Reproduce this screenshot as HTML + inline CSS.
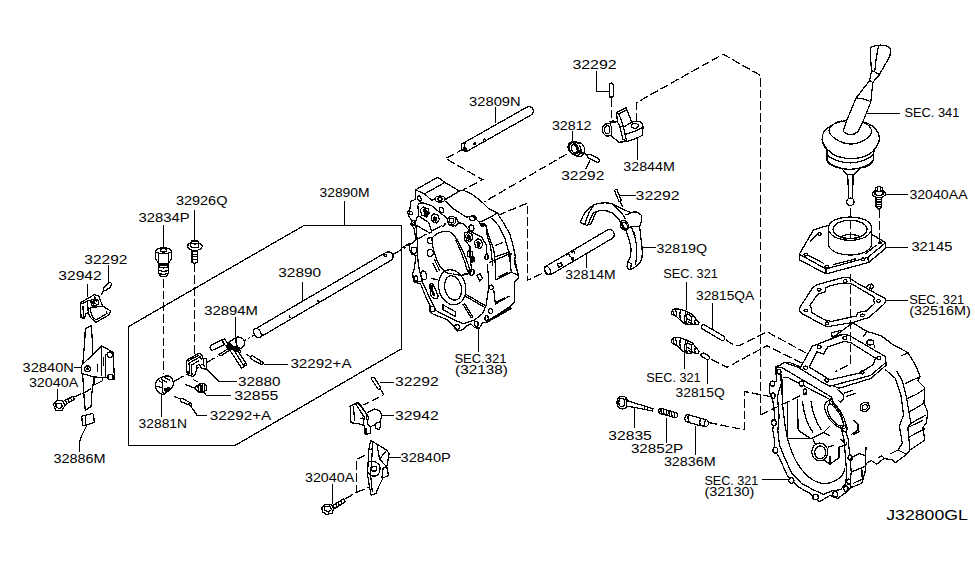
<!DOCTYPE html>
<html lang="en">
<head>
<meta charset="utf-8">
<title>J32800GL</title>
<style>
html,body{margin:0;padding:0;background:#fff;}
body{width:975px;height:566px;overflow:hidden;}
svg{display:block;shape-rendering:crispEdges;}
.l{fill:none;stroke:#000;stroke-width:1.25;stroke-linecap:butt;stroke-linejoin:round;}
.t{fill:none;stroke:#000;stroke-width:1.25;stroke-linejoin:round;}
.w{fill:#fff;stroke:#000;stroke-width:1.25;stroke-linejoin:round;}
.k{fill:#000;stroke:none;}
.d{fill:none;stroke:#000;stroke-width:1.25;stroke-dasharray:8.6 3.1;}
.dd{fill:none;stroke:#000;stroke-width:1.25;stroke-dasharray:11 2.5 2 2.5;}
g.z *{vector-effect:non-scaling-stroke;}
text{font-family:"Liberation Sans",sans-serif;font-size:13.2px;fill:#000;}
text.b{font-size:15.5px;}
</style>
</head>
<body>
<svg width="975" height="566" viewBox="0 0 975 566">
<rect x="0" y="0" width="975" height="566" fill="#fff"/>
<!-- 00_frame -->
<g class="l">
<!-- assembly box 32890M -->
<path d="M304 225.5 L401.5 225.5 L401.5 348.8 L235 445.5 L128.5 445.5 L128.5 326.6 Z"/>
<path d="M344.5 201 L344.5 225.2"/>
<!-- leaders: left group -->
<path d="M108.5 264.5 L108.5 282.4"/>
<path d="M87.5 284.4 L87.5 297.4"/>
<path d="M73.6 367.5 L83.8 367.5"/>
<path d="M57.5 388.5 L57.5 400.5"/>
<path d="M86.8 425.3 C84 432 79.4 438 79.4 444 V451.5"/>
<path d="M194.5 210.3 L194.5 240"/>
<path d="M163.5 225 L163.5 246.7"/>
<!-- leaders: inside box -->
<path d="M235.5 316.8 L235.5 337.4"/>
<path d="M236.5 381.5 L219 381.5 L205.5 367.7"/>
<path d="M230.5 395.5 L206.5 395.5 L203.3 391.7"/>
<path d="M207 415.5 L197.2 415.5 L190 405"/>
<path d="M161.5 417 L161.5 393"/>
<path d="M302.5 281.6 L302.5 301.3"/>
<path d="M287.6 364.5 L263.5 364.5"/>
<!-- leaders: top middle -->
<path d="M596.5 70.5 L596.5 91.5 L609.2 91.5"/>
<path d="M495.5 107.3 L495.5 123.3"/>
<path d="M572.5 131.3 L572.5 142"/>
<path d="M585.5 169.5 L590 160.7"/>
<path d="M637.5 139.3 L637.5 159.8"/>
<path d="M635.7 195.5 L619 195.5"/>
<path d="M656.3 247.5 L642 247.5"/>
<path d="M586.5 267.7 L586.5 254"/>
<!-- leaders: middle lower -->
<path d="M686.5 281.8 L686.5 309.7"/>
<path d="M712.5 303.3 L712.5 328.6"/>
<path d="M684.5 351.6 L684.5 368.5"/>
<path d="M707.5 359.3 L707.5 384"/>
<path d="M634.5 407 L634.5 428.2"/>
<path d="M666.5 417.6 L666.5 442.7"/>
<path d="M695.5 425.5 L695.5 454.7"/>
<path d="M761.6 479.5 L788.6 479.5"/>
<path d="M478.5 328.6 L478.5 351.7"/>
<!-- leaders: bottom middle -->
<path d="M393.7 382.5 L380.1 382.5"/>
<path d="M393.7 415.5 L381.6 415.5"/>
<path d="M400.6 457.5 L388.6 457.5"/>
<path d="M332.5 483.8 L332.5 503.6"/>
<!-- leaders: right -->
<path d="M899.8 113.5 L865.8 113.5"/>
<path d="M907.6 194.5 L885.6 194.5"/>
<path d="M907.5 247.5 L885.6 247.5"/>
<path d="M907.5 300.5 L885.6 300.5"/>
</g>
<!-- 01_dashed -->
<g class="d">
<path d="M163.5 279 L163.5 374"/>
<path d="M194.5 263.5 L194.5 353.5"/>
<!-- 32809N to housing -->
<path d="M464.5 148.6 L445.6 158.5 L482.6 179.6 L460 191.6"/>
<!-- ring 32812 to housing -->
<path d="M566.7 154 L484 202"/>
<!-- housing to 32814M -->
<path d="M497.6 215.6 L527.5 203 L527.5 280.2 L545.5 272"/>
<!-- pin to 32844M -->
<path d="M611.5 98 L611.5 120.7"/>
<!-- 32844M big loop -->
<path d="M636.5 121.6 L636.5 102.6 L723 54.2 L760.5 75.4 L760.5 415.5"/>
<!-- 32815QA -->
<path d="M726 339.6 Q733 346.5 740.8 345 L766.8 331.7 L806.3 353.2"/>
<!-- 32815Q -->
<path d="M711.1 359.3 L727.2 367.3 L766.8 345.7 L801.4 363"/>
<!-- 32836M -->
<path d="M709 422.6 L744.5 429.8 L744.5 391.5 L771.7 396.9"/>
<!-- bottom-middle: 32292 pin to clip -->
<path d="M380.1 388.5 L383.7 394.6 L363.6 405.1"/>
<!-- 32040A bolt to 32840P -->
<path d="M345.6 498.8 L356.5 492.2 L356.5 459.2 L368.7 453.7"/>
<path d="M356.7 492.2 L368.7 487.7"/>
</g>
<g class="dd">
<!-- axis of 32890 assembly -->
<path d="M174 381.5 L412 243.5"/>
</g>
<!-- 10_box_parts -->
<!-- shaft 32890 -->
<g>
<path class="w" d="M254.9 329.2 L385.6 252.6 Q390.5 250.6 392.6 254.6 Q394 258.2 391.6 260 L260.4 337 Z"/>
<ellipse class="w" cx="257.4" cy="333" rx="3.3" ry="5" transform="rotate(-28 257.4 333)"/>
<path class="l" d="M289.6 315.4 v2.2 h1.6 M262.6 334 l0.6 2"/>
<circle class="k" cx="318.3" cy="301.3" r="1.3"/>
<circle class="t" cx="385.2" cy="255.5" r="1.1"/>
</g>
<!-- 32894M (zoom 200,300 scale 100/708) -->
<g class="z" transform="translate(200 300) scale(0.14124)">
<path class="w" d="M205 298 L262 262 Q302 260 316 292 Q322 322 292 342 L245 360 Z"/>
<path class="l" d="M262 262 Q244 292 268 336"/>
<path class="w" d="M72 324 L156 282 L174 316 L88 356 Q68 352 72 324 Z"/>
<path class="l" d="M150 282 L164 302 M158 281 L172 276 L192 300"/>
<path class="w" d="M132 388 L196 346 L206 358 L150 394 Z"/>
<path class="w" d="M212 356 L252 338 L332 458 L294 482 Z"/>
<path class="l" d="M236 348 L312 470 M300 462 L324 448"/>
<path class="k" d="M186 298 L206 296 L232 322 L262 330 L284 336 L286 356 L256 366 L238 352 L214 356 L196 340 Z"/>
<path class="l" d="M180 318 L200 350 M268 336 L292 372" />
<path class="l" d="M204 310 L226 334 M244 340 L270 348" stroke="#fff"/>
<!-- pin 32292+A -->
<path class="l" d="M325 385 L352 399"/>
<path class="w" d="M358 404 Q362 392 374 396 L444 440 Q450 452 440 460 L366 420 Q356 414 358 404 Z"/>
<path class="l" d="M432 434 L424 452"/>
</g>
<!-- 11_box_small -->
<!-- 32881N, 32880, 32855, lower pin (zoom 145,340 scale 120/970) -->
<g class="z" transform="translate(145 340) scale(0.12371)">
<!-- 32881N -->
<path class="w" d="M84 365 Q88 322 130 302 Q175 282 205 295 Q232 320 228 365 Q222 392 195 408 L152 440 Q120 440 100 415 Q84 395 84 365 Z"/>
<path class="l" d="M130 302 Q150 340 140 385 Q138 420 152 440 M88 372 L140 385 M112 330 L150 350 M132 316 L176 340 M156 300 L202 326"/>
<path class="k" d="M150 395 L195 375 L205 398 L165 432 Z"/>
<!-- 32880 -->
<path class="w" d="M335 165 L430 110 Q455 108 462 125 L470 152 L500 150 L500 215 L490 236 L455 230 L440 196 L420 206 L410 270 L385 296 L350 282 L335 250 Z"/>
<path class="l" d="M345 172 L437 122 M356 187 L446 136 L456 160 M356 187 L360 272 M376 202 L440 166 M376 202 L380 282 M450 200 L466 200 L486 216 M470 152 L474 205"/>
<path class="k" d="M340 250 L360 252 L362 278 L350 282 Z"/>
<!-- 32855 -->
<path class="l" d="M325 358 L402 390 M390 320 L430 340"/>
<path class="w" d="M410 376 L440 356 L480 350 L500 375 L495 405 L465 420 L430 420 L410 396 Z"/>
<path class="l" d="M428 366 L432 418 M444 356 L450 420 M462 352 L468 420 M478 352 L484 412"/>
<path class="k" d="M448 362 L464 358 L468 412 L452 414 Z"/>
<!-- lower pin -->
<path class="l" d="M235 455 L280 475"/>
<path class="w" d="M284 484 Q286 470 300 472 L372 510 Q382 520 374 532 L294 500 Q284 494 284 484 Z"/>
<path class="l" d="M360 504 L352 524"/>
</g>
<!-- 12_left -->
<!-- top-left clip 32942 + pin (zoom 20,240 scale 120/679) -->
<g class="z" transform="translate(20 240) scale(0.17673)">
<path class="w" d="M470 290 Q468 275 480 262 L500 244 Q516 238 520 250 Q514 268 488 284 Z"/>
<path class="l" d="M472 286 L460 308"/>
<path class="w" d="M340 355 L420 310 L446 316 L466 372 L512 402 L506 422 L430 466 L400 440 L386 410 L370 420 L366 442 L346 440 Z"/>
<path class="l" d="M346 362 L382 346 L432 330 M382 346 L386 410 M356 372 L360 438 M400 350 L440 338 L446 362 L410 376 Z M394 382 L462 376 M394 382 L410 436 L430 452 L492 416 L486 400 M420 318 L436 348"/>
<path class="k" d="M404 352 L424 346 L428 360 L412 368 Z"/>
</g>
<!-- lever 32840N, bolt 32040A, pad 32886M (zoom 20,330 scale 120/485) -->
<g class="z" transform="translate(20 330) scale(0.24742)">
<path class="w" d="M264 -6 L287 -17 L291 20 L295 100 L298 200 L290 260 L287 310 L264 324 L260 290 L256 220 L252 160 L257 100 L262 40 Z"/>
<path class="w" d="M250 142 L330 64 L376 90 L382 200 L346 192 L300 190 L250 176 Z"/>
<path class="l" d="M330 64 L330 186 M346 98 L346 192 M300 190 L300 222 L332 206 L332 188 M312 138 L312 170 M336 110 L336 146 M252 258 L286 238"/>
<circle class="w" cx="363" cy="100" r="11"/>
<circle class="w" cx="366" cy="190" r="11"/>
<circle class="w" cx="273" cy="157" r="12"/>
<circle class="k" cx="273" cy="157" r="6"/>
<!-- bolt -->
<path class="l" d="M216 272 L246 258"/>
<path class="w" d="M172 290 L214 268 L220 280 L178 304 Z"/>
<path class="l" d="M184 284 L190 297 M194 279 L200 292 M204 274 L210 287"/>
<path class="w" d="M134 300 L150 284 L172 286 L182 304 L170 324 L146 326 Z"/>
<path class="l" d="M146 296 L166 296 L172 308 L160 318 L146 312 Z"/>
<!-- pad -->
<path class="w" d="M250 354 Q250 346 258 346 L292 338 Q298 338 298 346 L300 374 L258 386 Q252 386 252 378 Z"/>
<path class="l" d="M264 346 L266 384"/>
</g>
<!-- plug 32834P, bolt 32926Q (zoom 120,180 scale 160/755) -->
<g class="z" transform="translate(120 180) scale(0.21192)">
<path class="w" d="M168 338 Q170 322 205 318 Q240 322 244 338 L244 372 L228 392 L228 440 L218 456 L192 456 L182 440 L182 392 L166 372 Z"/>
<path class="l" d="M168 340 Q205 356 244 340 M182 346 L182 392 M228 346 L228 392 M182 392 Q205 402 228 392 M184 410 Q205 420 228 410 M184 426 Q205 436 228 426 M182 440 Q205 450 228 440"/>
<ellipse class="l" cx="205" cy="332" rx="14" ry="8"/>
<path class="k" d="M186 394 Q205 404 226 394 L226 404 Q205 412 186 404 Z"/>
<!-- bolt -->
<path class="w" d="M340 336 L364 336 L364 388 L352 394 L340 388 Z"/>
<path class="l" d="M340 350 L364 350 M340 362 L364 362 M340 374 L364 374"/>
<path class="w" d="M318 314 Q320 300 334 298 L338 288 L366 288 L372 298 Q386 302 388 314 Q384 330 352 334 Q322 330 318 314 Z"/>
<path class="l" d="M334 298 Q352 306 372 298 M334 298 L334 316 Q352 322 372 316 L372 298"/>
</g>
<!-- 20_housing -->
<!-- center housing SEC.321 (32138) (zoom 400,170 scale 130/818) -->
<g class="z" transform="translate(400 170) scale(0.15892)">
<!-- silhouette white fill -->
<path class="w" d="M97 125 L237 45 L282 78 L370 130 L400 128 L450 150 L490 180 L525 210 L560 245 L615 270 L620 285 L650 330 L690 400 L710 470 L725 540 L720 583 L745 663 L745 683 L720 703 L720 833 L700 853 L565 943 L545 958 L520 958 L500 995 L470 993 L445 968 L415 983 L400 1003 L360 1013 L340 983 L300 943 L250 923 L210 908 L185 888 L190 853 L160 793 L130 718 L85 703 L80 653 L90 623 L100 538 L75 530 L58 500 L62 470 L85 455 L100 440 L90 370 L68 340 L75 320 L55 290 L48 262 L62 250 L68 198 L97 185 Z"/>
<!-- top box -->
<path class="l" d="M97 125 L155 150 L282 78 M155 150 L200 192 L218 180 M285 186 L375 132 M370 130 L400 128"/>
<ellipse class="l" cx="252" cy="183" rx="32" ry="19"/>
<ellipse class="l" cx="252" cy="183" rx="15" ry="9"/>
<!-- top right flat surface -->
<path class="l" d="M286 196 L330 240 L420 298 M455 290 L500 328 L540 312 L615 270 M420 298 L432 290"/>
<ellipse class="l" cx="458" cy="303" rx="22" ry="14"/>
<path class="k" d="M500 336 L536 332 L540 350 L506 352 Z"/>
<!-- right side wall lines -->
<path class="l" d="M575 300 L620 350 L660 430 L680 500 L690 570 L700 523 M540 350 L560 420 L590 500 L600 600 L600 693 M545 345 L545 400 L570 480 L580 570 L580 603 M600 475 L650 455 M600 545 L690 515"/>
<path class="l" d="M560 583 L700 523 M690 553 L700 643 M720 553 L745 663 M600 693 L700 643 L745 663 M620 673 L680 643 M590 753 L600 843 L690 793 M605 833 L660 803 M610 826 L614 840 M700 853 L720 833"/>
<path class="l" d="M540 953 L700 863 M548 958 L704 870 M556 948 L640 900" />
<!-- left ear holes -->
<g class="l"><ellipse cx="122" cy="180" rx="10" ry="18" transform="rotate(-20 122 180)"/><ellipse cx="68" cy="272" rx="10" ry="11"/><ellipse cx="85" cy="332" rx="10" ry="15" transform="rotate(-20 85 332)"/><ellipse cx="88" cy="505" rx="18" ry="20"/>
<ellipse cx="100" cy="683" rx="12" ry="16"/><ellipse cx="205" cy="875" rx="16" ry="16"/><ellipse cx="360" cy="988" rx="16" ry="14"/><ellipse cx="480" cy="968" rx="12" ry="16"/><ellipse cx="545" cy="933" rx="10" ry="16"/><ellipse cx="570" cy="888" rx="12" ry="16"/><ellipse cx="575" cy="738" rx="12" ry="14"/><ellipse cx="545" cy="548" rx="11" ry="15"/><ellipse cx="520" cy="345" rx="9" ry="10"/></g>
<!-- upper-left window w/ hex bolts -->
<path class="l" d="M112 222 Q118 204 150 208 L200 226 L262 276 L290 298 M112 222 L118 290 L180 330 L200 388 L186 396 L100 346 M118 290 L104 300"/>
<path class="l" d="M128 250 L146 232 L176 244 L184 272 L166 296 L138 284 Z M196 292 L214 276 L240 284 L248 312 L230 334 L204 326 Z"/>
<path class="k" d="M144 246 L160 240 L176 262 L170 286 L154 290 Z"/>
<path class="k" d="M206 296 L218 288 L232 300 L236 318 L224 326 L210 318 Z"/>
<ellipse class="l" cx="262" cy="252" rx="12" ry="18" transform="rotate(-15 262 252)"/>
<ellipse class="l" cx="325" cy="318" rx="25" ry="27"/><ellipse class="l" cx="325" cy="318" rx="13" ry="15"/>
<path class="l" d="M352 296 L370 332 L350 352 L312 346 M278 290 L296 304"/>
<path class="l" d="M104 300 L96 346 M100 346 L108 440 L110 543 M400 340 L440 385 M296 304 L306 340 L340 356 M75 320 L100 346 M62 470 L100 440"/>
<!-- main bore -->
<path class="l" d="M200 428 Q245 380 310 386 Q350 410 382 482 Q430 580 445 653 M200 428 Q205 520 250 603 Q290 660 330 653 M350 440 Q400 540 425 640"/>
<path class="l" d="M262 360 L292 338 M402 340 L372 332 M330 653 Q395 672 440 650"/>
<ellipse class="l" cx="190" cy="445" rx="17" ry="19"/><ellipse class="l" cx="190" cy="522" rx="19" ry="22"/>
<!-- right bolt group -->
<path class="l" d="M405 396 L440 384 L512 420 L542 470 L546 520 L556 560 M405 396 L406 440 L440 480 L440 540 L452 640"/>
<path class="l" d="M412 412 L430 394 L452 404 L458 432 L442 452 L420 442 Z M468 450 L490 432 L514 444 L520 474 L502 494 L476 484 Z"/>
<path class="k" d="M420 412 L434 404 L446 420 L444 440 L430 444 L422 432 Z"/>
<path class="k" d="M480 452 L496 446 L508 464 L502 484 L488 486 Z"/>
<ellipse class="l" cx="450" cy="365" rx="15" ry="20" transform="rotate(-15 450 365)"/>
<path class="k" d="M438 545 L468 540 L472 580 L444 584 Z"/>
<ellipse class="l" cx="440" cy="528" rx="17" ry="19"/><ellipse class="l" cx="450" cy="643" rx="17" ry="19"/>
<!-- inner contour (lower) -->
<path class="l" d="M110 543 L120 623 L140 703 L200 833 L225 883 L280 913 L340 943 L400 968 L440 953 L470 943 L520 903 L545 843 L550 783 L560 743 L555 653 L548 590"/>
<!-- lower bore -->
<ellipse class="l" cx="328" cy="738" rx="84" ry="112" transform="rotate(-14 328 738)"/>
<ellipse class="l" cx="334" cy="742" rx="52" ry="78" transform="rotate(-14 334 742)"/>
<!-- boss + slot + plate -->
<ellipse class="l" cx="150" cy="663" rx="18" ry="28" transform="rotate(-15 150 663)"/>
<path class="l" d="M186 724 Q196 710 210 722 L240 792 Q236 812 220 810 L196 796 Z"/>
<path class="k" d="M190 722 L206 720 L212 770 L224 786 L212 796 L200 780 Z"/>
<path class="l" d="M270 848 L350 893 L350 923 L270 878 Z"/>
<!-- ribs -->
<path class="l" d="M250 633 L216 563 M236 645 L204 583 M410 793 L530 863 M416 783 L536 853 M395 843 L450 933 M405 838 L460 928 M400 653 L436 648 M140 703 L100 700 M196 683 L240 690"/>
<path class="l" d="M485 663 L505 653 L520 683 L500 698 Z"/>
</g>
<!-- 30_topmid -->
<!-- top middle parts (zoom 430,50 scale 260/975) -->
<g class="z" transform="translate(430 50) scale(0.26667)">
<!-- shaft 32809N -->
<path class="w" d="M120 352 L364 214 Q380 208 386 222 Q390 234 382 242 L142 378 Q128 384 120 372 Q114 362 120 352 Z"/>
<path class="l" d="M132 348 Q124 362 138 378"/>
<circle class="t" cx="168" cy="352" r="4"/><circle class="t" cx="204" cy="338" r="4"/>
<path class="k" d="M122 366 L134 362 L140 376 L128 380 Z"/>
<!-- top pin 32292 -->
<path class="w" d="M673 132 Q673 124 680 124 Q687 124 687 132 L687 176 L673 176 Z"/>
</g>
<!-- ring, pin, 32844M (zoom 545,75 scale 120/617) -->
<g class="z" transform="translate(545 75) scale(0.19449)">
<!-- ring 32812 -->
<path class="w" d="M118 372 Q118 346 146 342 L180 348 Q204 360 204 388 Q200 410 184 418 L160 416 Q122 404 118 372 Z"/>
<ellipse class="l" cx="148" cy="378" rx="22" ry="30" transform="rotate(-20 148 378)"/>
<ellipse class="l" cx="150" cy="380" rx="14" ry="22" transform="rotate(-20 150 380)"/>
<path class="l" d="M150 346 L186 354 M170 410 L196 400 M176 360 L190 392"/>
<path class="k" d="M168 392 L186 384 L192 402 L176 412 Z"/>
<!-- pin 32292 below -->
<path class="l" d="M196 400 L216 412"/>
<path class="w" d="M218 414 Q222 404 234 408 L276 430 Q284 438 278 446 Q270 452 260 446 L224 428 Q216 424 218 414 Z"/>
<!-- 32844M -->
<path class="w" d="M296 280 Q296 252 322 250 L372 240 L368 192 L416 168 L446 242 Q470 236 492 242 Q506 254 504 272 L500 310 L470 326 L420 342 L380 346 L340 312 L318 314 Q296 306 296 280 Z"/>
<ellipse class="l" cx="320" cy="282" rx="13" ry="21"/>
<path class="l" d="M336 254 Q350 280 340 312 M372 240 L384 262 L404 268 L446 242 M384 262 L400 330 L420 342 M368 192 L380 200 L404 268 M380 200 L420 180 M404 268 L412 306 L470 286 L500 270 M412 306 L420 342"/>
<ellipse class="l" cx="462" cy="262" rx="18" ry="12"/>
<path class="k" d="M330 236 L356 232 L362 244 L336 250 Z"/>
<path class="l" d="M470 320 L470 330"/>
</g>
<!-- fork 32819Q + shaft 32814M + pin (zoom 530,180 scale 190/975) -->
<g class="z" transform="translate(530 180) scale(0.19487)">
<!-- shaft 32814M -->
<path class="w" d="M76 446 L398 256 Q416 248 428 264 Q436 282 428 296 L106 486 Q88 490 78 474 Q70 460 76 446 Z"/>
<ellipse class="l" cx="90" cy="464" rx="13" ry="22" transform="rotate(-25 90 464)"/>
<path class="l" d="M140 432 L160 424 L166 440 L148 448 Z M182 386 L200 380 L206 394 M210 372 L226 366 L230 380"/>
<path class="k" d="M210 396 L222 392 L228 412 L214 416 Z"/>
<!-- pin 32292 -->
<path class="w" d="M434 56 Q436 46 446 48 L468 104 Q466 112 458 112 Z"/>
<path class="l" d="M462 112 L476 136"/>
<!-- fork -->
<path class="w" d="M258 218 Q280 150 330 126 Q380 110 420 122 L490 156 L520 168 Q550 156 570 180 Q580 204 562 238 L572 320 Q580 380 572 410 Q560 438 520 458 Q500 462 498 446 L502 420 Q520 400 518 350 Q508 290 488 250 Q460 200 420 168 Q380 148 340 162 L312 228 L290 232 Z"/>
<path class="l" d="M330 126 Q300 160 282 226 M340 162 Q320 160 300 228 M420 122 Q470 160 490 200 M488 250 L520 240 L562 238 M520 240 Q545 300 548 350 Q550 400 540 436 M502 420 L520 430 L516 456 M530 260 L540 290 M520 168 L490 180"/>
<ellipse class="l" cx="484" cy="232" rx="20" ry="26" transform="rotate(-30 484 232)"/>
<ellipse class="l" cx="486" cy="234" rx="12" ry="18" transform="rotate(-30 486 234)"/>
</g>
<!-- 40_lever -->
<!-- shift lever SEC.341 (zoom 790,30 scale 185/952) -->
<g class="z" transform="translate(790 30) scale(0.19433)">
<!-- boot (coords continue below y=566: lower zoom y+411.7) -->
<path class="w" d="M165 562 C166 530 180 508 205 497 C230 478 260 468 300 466 L372 470 C400 478 420 490 432 500 C452 520 460 540 460 562 C458 585 448 600 432 614 L431 668 C420 695 390 708 360 711 L330 742 L290 742 L266 712 C220 705 196 690 190 672 L190 617 C175 600 166 585 165 562 Z"/>
<path class="l" d="M165 562 C170 600 210 640 250 652 C290 664 340 664 380 652 C420 640 455 600 460 562"/>
<path class="l" d="M200 522 C202 495 230 474 270 467 M375 474 C405 484 420 500 420 527 M200 522 C210 550 260 586 312 587 C365 586 410 555 420 527"/>
<path class="l" d="M190 642 C215 668 270 684 312 684 C355 684 410 664 432 637"/>
<path class="l" d="M190 672 C220 705 280 718 312 717 C350 716 410 700 431 668"/>
<!-- rod & ball -->
<path class="w" d="M297 742 L325 742 L322 866 L302 866 Z"/>
<circle class="w" cx="311" cy="884" r="19"/>
<!-- lever -->
<path class="w" d="M415 90 Q440 76 470 78 Q510 78 518 100 Q520 130 500 160 L460 230 L426 270 L416 370 L376 470 L350 522 Q312 556 274 522 L290 470 L340 350 L410 260 L420 210 Q412 150 415 90 Z"/>
<path class="l" d="M456 80 Q442 140 436 212 M420 210 Q440 214 460 230 M410 260 L426 270 M340 350 Q380 350 416 370"/>
</g>
<!-- bolt 32040AA (zoom 790,110 scale 185/952) -->
<g class="z" transform="translate(790 110) scale(0.19433)">
<path class="w" d="M443 448 L472 448 L472 500 L458 512 L443 500 Z"/>
<path class="l" d="M443 462 L472 462 M443 474 L472 474 M443 486 L472 486 M443 498 L472 498"/>
<path class="w" d="M424 432 Q426 418 438 414 L440 400 Q458 390 476 400 L478 414 Q490 418 492 432 Q488 448 458 452 Q428 448 424 432 Z"/>
<path class="l" d="M438 414 Q458 422 478 414 M438 414 L438 436 Q458 442 478 436 L478 414 M452 396 L452 418 M466 396 L466 418"/>
</g>
<!-- plate 32145 + gasket (zoom 780,200 scale 195/849) -->
<g class="z" transform="translate(780 200) scale(0.22968)">
<path class="w" d="M84 236 L146 130 L212 110 L400 150 L460 186 L460 210 L386 272 L200 322 L84 260 Z"/>
<path class="l" d="M84 236 L200 300 L382 250 L460 186 M200 300 L200 322 M382 250 L386 272"/>
<path class="l" d="M130 182 L160 150 M122 240 L190 276 M230 282 L330 256 M372 234 L420 196"/>
<g class="l"><ellipse cx="172" cy="148" rx="8" ry="6"/><ellipse cx="112" cy="238" rx="8" ry="6"/><ellipse cx="204" cy="290" rx="8" ry="6"/><ellipse cx="360" cy="258" rx="8" ry="6"/></g>
<path class="k" d="M424 182 L440 178 L444 190 L430 194 Z"/>
<!-- cylinder -->
<path class="w" d="M210 125 Q212 78 305 74 Q398 78 400 125 L400 192 Q390 236 305 240 Q220 236 210 192 Z"/>
<path class="l" d="M210 125 Q220 172 305 176 Q390 172 400 125"/>
<ellipse class="l" cx="305" cy="128" rx="74" ry="40"/>
<path class="l" d="M262 160 Q305 140 350 160"/>
<!-- gasket -->
<path class="l" d="M83 480 L90 462 L142 382 L160 369 L280 336 L302 339 L333 360 L388 391 L456 428 L462 437 L456 450 L388 511 L317 533 L210 551 L194 548 L93 493 Z"/>
<path class="l" d="M130 459 L136 471 L136 489 L191 520 L222 529 L333 505 L339 490 L376 483 L413 450 L407 437 L413 425 L314 366 L302 363 L259 363 L210 376 L197 385 L197 400 L167 409 L160 416 Z"/>
<g class="l"><ellipse cx="284" cy="353" rx="8" ry="6"/><ellipse cx="171" cy="391" rx="8" ry="6"/><ellipse cx="112" cy="481" rx="8" ry="6"/><ellipse cx="205" cy="537" rx="8" ry="6"/><ellipse cx="359" cy="502" rx="8" ry="6"/><ellipse cx="429" cy="439" rx="8" ry="6"/></g>
<path class="l" d="M376 384 Q382 366 400 366 Q412 374 402 386 Q392 390 388 380 M392 370 L396 388"/>
</g>
<!-- 50_case -->
<!-- main case SEC.321 (32130) (zoom 760,320 scale 200/943) -->
<g class="z" transform="translate(760 320) scale(0.21209)">
<!-- body silhouette -->
<path class="w" d="M75 225 L115 200 L190 226 L246 124 L330 92 L438 13 L455 24 L504 54 L571 74 L624 114 L698 154 L737 220 L755 267 L744 287 L777 320 L773 393 L791 433 L784 487 L768 507 L777 567 L707 613 L691 633 L638 673 L624 660 L584 653 L551 680 L524 662 L500 677 L495 720 L480 770 L430 790 L400 817 L365 842 L330 827 L280 857 L235 817 L180 787 L130 737 L90 647 L65 607 L70 577 L60 517 L70 457 L60 377 L45 340 L45 300 L78 290 Z"/>
<!-- top flange -->
<path class="w" d="M188 228 L246 124 L392 68 L420 72 L590 172 L594 200 L520 262 L330 312 L300 298 Z"/>
<path class="l" d="M232 222 L268 150 L300 160 L320 126 L400 100 L430 108 L545 180 L535 210 L470 250 L330 282 Z"/>
<path class="l" d="M337 306 L372 322 L522 276 L594 214 L594 200 M191 230 L300 298"/>
<g class="l"><ellipse cx="280" cy="127" rx="9" ry="8"/><ellipse cx="400" cy="85" rx="9" ry="8"/><ellipse cx="560" cy="180" rx="9" ry="8"/><ellipse cx="482" cy="247" rx="9" ry="8"/><ellipse cx="315" cy="285" rx="9" ry="8"/><ellipse cx="215" cy="225" rx="9" ry="8"/><ellipse cx="520" cy="106" rx="16" ry="12"/></g>
<path class="l" d="M392 68 L340 78 L336 60 L380 50 M540 118 L540 132"/>
<!-- right body -->
<path class="l" d="M330 92 L438 13 L455 24 L504 54 L571 74 L624 114 L698 154 L737 220 L755 267 L744 287 L777 320 L773 393 L791 433 L784 487 L768 507 L777 567 L707 613 L691 633 L638 673 L624 660 L584 653 L551 680 L524 662 L500 677"/>
<path class="l" d="M504 54 L486 80 M698 154 L664 170 M591 234 L637 274 L664 353 L677 447 L657 500 L671 580 L651 613 L611 633 M644 240 L671 287 L691 367 L711 487 L697 507 L707 613"/>
<path class="l" d="M684 300 L755 267 M691 373 L744 347 L773 327 M704 433 L773 393 M711 487 L784 447 M697 507 L768 473 M701 553 L777 513 M651 613 L691 633 M560 650 Q575 632 584 653"/>
<!-- front flange outer -->
<path class="l" d="M74 222 L121 199 L139 200 L187 219 M363 326 L394 352 L394 374 L380 387 L367 378 M80 224 L102 224 L337 363 L341 372 M108 272 L128 269 L328 374 M74 222 L78 290 L45 300 L45 340 L60 377 L70 457 L60 517 L70 577 L65 607 L90 647 L130 737 L180 787 L235 817 L280 857 L330 827 L365 842 L400 817 L430 790 L425 767 L430 717 L425 657 L415 557 L400 512 L380 437 L340 386 L330 377"/>
<!-- flange inner contour -->
<path class="l" d="M98 240 L100 300 L82 360 L90 457 L84 520 L92 590 L112 640 L150 722 L195 770 L250 800 L300 822 L340 805 L380 800 L405 770 L408 717 L404 657 L395 557 L380 500"/>
<path class="l" d="M104 280 Q100 420 130 560 Q160 680 230 740 Q290 790 350 760 Q395 740 400 700"/>
<!-- ears -->
<g class="w"><ellipse cx="90" cy="244" rx="9" ry="12"/><ellipse cx="58" cy="300" rx="10" ry="12"/><ellipse cx="62" cy="357" rx="9" ry="13"/><ellipse cx="66" cy="484" rx="11" ry="14"/><ellipse cx="72" cy="614" rx="11" ry="14"/><ellipse cx="148" cy="757" rx="12" ry="13"/><ellipse cx="262" cy="835" rx="13" ry="13"/><ellipse cx="355" cy="822" rx="12" ry="13"/><ellipse cx="405" cy="795" rx="10" ry="13"/><ellipse cx="418" cy="762" rx="9" ry="12"/><ellipse cx="425" cy="649" rx="10" ry="13"/><ellipse cx="400" cy="512" rx="11" ry="14"/><ellipse cx="335" cy="385" rx="9" ry="13"/><ellipse cx="195" cy="300" rx="10" ry="12"/><ellipse cx="212" cy="338" rx="8" ry="14"/></g>
<!-- interior ribs -->
<path class="l" d="M130 392 L130 560 L240 560 M176 372 L180 520 L240 560 L300 530 M200 380 Q210 480 250 530 M240 380 Q250 460 290 520 M250 560 L262 590 M330 500 L300 530 L330 545 M380 560 L404 590 L372 600 L372 650 L330 680 M404 590 L410 575"/>
<!-- bearing bore -->
<ellipse class="l" cx="282" cy="622" rx="38" ry="42"/>
<ellipse class="l" cx="284" cy="624" rx="26" ry="30"/>
<path class="l" d="M300 660 L330 680 L330 640 M318 600 L350 590"/>
<!-- upper oval -->
<path class="l" d="M306 420 Q300 385 330 378 Q390 420 408 500 Q400 520 378 510 Q320 480 306 420 Z"/>
<path class="l" d="M318 422 Q316 400 334 396 Q380 430 394 494 Q380 504 366 494 Q326 466 318 422 Z"/>
<!-- hex -->
<path class="l" d="M472 402 L490 388 L512 392 L516 414 L498 432 L476 428 Z M482 406 L494 398 L506 402 L506 414 L496 424 L484 420 Z"/>
<!-- right of front flange: steps -->
<path class="l" d="M430 717 L480 697 L482 750 L440 770 M425 657 L446 640 L470 630 L498 640 L500 600 M480 697 L498 690 L498 640 M436 470 L462 490 L462 520 L430 540 M440 540 L470 525 M396 345 L440 330 M404 362 L450 345"/>
</g>
<!-- 60_midsmall -->
<!-- switches SEC.321 + pins (zoom 600,260 scale 190/975) -->
<g class="z" transform="translate(600 260) scale(0.19487)">
<g>
<path class="w" d="M366 270 L372 258 L383 250 L415 253 L442 263 L475 280 L491 301 L508 321 L505 332 L475 329 L452 333 L436 328 L415 313 L393 291 L370 280 Z"/>
<path class="l" d="M383 250 Q394 262 392 290 M372 258 Q380 266 380 284 M415 253 Q404 282 416 312 M442 263 Q430 296 438 328 M450 268 Q438 298 448 332 M475 280 Q464 304 474 330 M491 301 Q482 316 490 330"/>
<path class="l" d="M454 280 L470 290 M446 300 L466 312 M452 318 L468 324"/>
</g>
<g transform="translate(0 147)">
<path class="w" d="M366 270 L372 258 L383 250 L415 253 L442 263 L475 280 L491 301 L508 321 L505 332 L475 329 L452 333 L436 328 L415 313 L393 291 L370 280 Z"/>
<path class="l" d="M383 250 Q394 262 392 290 M372 258 Q380 266 380 284 M415 253 Q404 282 416 312 M442 263 Q430 296 438 328 M450 268 Q438 298 448 332 M475 280 Q464 304 474 330 M491 301 Q482 316 490 330"/>
<path class="l" d="M454 280 L470 290 M446 300 L466 312 M452 318 L468 324"/>
</g>

<!-- pin 32815QA -->
<path class="w" d="M520 342 Q522 330 534 332 L634 390 Q644 400 638 410 Q630 416 620 410 L526 354 Q518 350 520 342 Z"/>
<!-- pin 32815Q -->
<path class="w" d="M518 486 Q520 476 532 478 L558 492 Q566 500 560 508 Q552 514 544 508 L522 496 Q516 492 518 486 Z"/>
</g>
<!-- 32835, spring, 32836M (zoom 600,350 scale 190/717) -->
<g class="z" transform="translate(600 350) scale(0.26499)">
<path class="w" d="M64 198 Q64 176 84 174 Q102 176 104 192 L150 206 L200 222 L198 230 L148 220 L104 212 Q96 224 80 222 Q64 216 64 198 Z"/>
<ellipse class="l" cx="82" cy="198" rx="11" ry="16"/>
<path class="l" d="M94 180 Q106 196 98 216 M170 212 L168 224 M180 214 L178 226"/>
<!-- spring -->
<path class="w" d="M222 226 Q224 218 232 220 L290 238 Q296 244 292 252 L286 256 L228 240 Q220 236 222 226 Z"/>
<path class="l" d="M232 220 Q226 232 236 242 M242 223 Q236 235 246 245 M252 226 Q246 238 256 248 M262 229 Q256 241 266 251 M272 232 Q266 244 276 254 M282 235 Q276 247 286 256"/>
<!-- 32836M -->
<path class="w" d="M320 256 Q322 242 334 244 L380 258 L404 264 Q412 270 410 280 Q406 290 396 288 L372 284 L330 272 Q318 268 320 256 Z"/>
<path class="l" d="M334 244 Q328 258 338 274 M380 258 Q374 272 378 286 M398 264 Q392 276 396 288"/>
</g>
<!-- bottom middle: pin, clip 32942, lever 32840P, bolt (zoom 290,360 scale 180/599) -->
<g class="z" transform="translate(290 360) scale(0.3005)">
<path class="w" d="M270 62 Q272 56 280 58 L302 92 Q300 98 294 98 Z"/>
<!-- clip -->
<path class="w" d="M200 154 L225 142 L234 147 L253 178 L281 163 L299 169 L306 185 L299 206 L302 218 L296 231 L284 228 L283 215 L268 222 L268 243 L253 248 L248 243 L247 218 L228 212 L203 209 Z"/>
<path class="l" d="M210 152 L216 203 M219 147 L247 190 L244 215 M225 142 L259 184 M253 178 L259 215 L268 222 M234 196 L244 192 M259 184 L262 200 M253 226 L253 246 M283 215 L290 208 L299 206"/>
<!-- lever 32840P -->
<path class="w" d="M268 268 L276 272 L322 300 L330 312 L322 356 L328 384 L310 392 L296 420 L286 444 L270 450 L264 420 L258 380 L260 340 L262 300 Z"/>
<path class="l" d="M276 272 L272 330 L268 380 L274 440 M290 284 L298 330 L322 300 M298 330 L322 356 M262 300 L272 296 M306 392 L310 360 L322 356 M260 340 Q280 330 298 350 Q304 372 290 384 Q270 392 260 372"/>
<ellipse class="l" cx="280" cy="362" rx="9" ry="8"/>
<!-- bolt -->
<path class="w" d="M142 484 L178 462 L184 472 L150 494 Z"/>
<path class="l" d="M152 480 L158 490 M160 474 L166 485 M168 469 L174 479"/>
<path class="w" d="M106 492 L118 480 L136 480 L146 494 L140 510 L122 514 L108 506 Z"/>
<path class="l" d="M116 488 L132 486 L138 498 L128 506 L116 500 Z"/>
</g>
<!-- 90_overlay -->
<g class="d">
<path d="M850.5 208 L850.5 217.4"/>
<path d="M850.5 220.5 L850.5 239"/>
<path d="M850.5 273.5 L850.5 364.3 L834.8 371.7"/>
<path d="M879.5 209.5 L879.5 242"/>
<path d="M760.5 415 L806.3 392.7"/>
</g>
<g class="dd">
<path d="M401 248.2 L446 223.3"/>
</g>
<g>
<text x="84.3" y="264.0" textLength="43.2" lengthAdjust="spacingAndGlyphs">32292</text>
<text x="58.3" y="280.0" textLength="43.4" lengthAdjust="spacingAndGlyphs">32942</text>
<text x="22.5" y="372.0" textLength="51.4" lengthAdjust="spacingAndGlyphs">32840N</text>
<text x="28.9" y="387.0" textLength="49.3" lengthAdjust="spacingAndGlyphs">32040A</text>
<text x="53.4" y="463.0" textLength="52.2" lengthAdjust="spacingAndGlyphs">32886M</text>
<text x="175.9" y="205.0" textLength="51.5" lengthAdjust="spacingAndGlyphs">32926Q</text>
<text x="138.4" y="222.0" textLength="51.2" lengthAdjust="spacingAndGlyphs">32834P</text>
<text x="204.3" y="315.0" textLength="53.7" lengthAdjust="spacingAndGlyphs">32894M</text>
<text x="237.9" y="386.0" textLength="42.6" lengthAdjust="spacingAndGlyphs">32880</text>
<text x="234.2" y="400.0" textLength="44.2" lengthAdjust="spacingAndGlyphs">32855</text>
<text x="209.8" y="420.0" textLength="61.5" lengthAdjust="spacingAndGlyphs">32292+A</text>
<text x="138.6" y="428.0" textLength="48.4" lengthAdjust="spacingAndGlyphs">32881N</text>
<text x="319.5" y="197.0" textLength="50.1" lengthAdjust="spacingAndGlyphs">32890M</text>
<text x="278.3" y="277.0" textLength="42.8" lengthAdjust="spacingAndGlyphs">32890</text>
<text x="290.4" y="368.0" textLength="61.1" lengthAdjust="spacingAndGlyphs">32292+A</text>
<text x="572.4" y="69.0" textLength="44.3" lengthAdjust="spacingAndGlyphs">32292</text>
<text x="469.1" y="106.0" textLength="51.6" lengthAdjust="spacingAndGlyphs">32809N</text>
<text x="551.9" y="130.0" textLength="39.6" lengthAdjust="spacingAndGlyphs">32812</text>
<text x="561.2" y="180.0" textLength="43.2" lengthAdjust="spacingAndGlyphs">32292</text>
<text x="623.3" y="171.0" textLength="51.5" lengthAdjust="spacingAndGlyphs">32844M</text>
<text x="635.6" y="200.0" textLength="44.1" lengthAdjust="spacingAndGlyphs">32292</text>
<text x="656.4" y="253.0" textLength="50.7" lengthAdjust="spacingAndGlyphs">32819Q</text>
<text x="565.3" y="279.0" textLength="50.2" lengthAdjust="spacingAndGlyphs">32814M</text>
<text x="663.2" y="278.0" textLength="54.7" lengthAdjust="spacingAndGlyphs">SEC. 321</text>
<text x="696.0" y="300.0" textLength="58.2" lengthAdjust="spacingAndGlyphs">32815QA</text>
<text x="646.3" y="382.0" textLength="54.4" lengthAdjust="spacingAndGlyphs">SEC. 321</text>
<text x="675.5" y="397.0" textLength="49.2" lengthAdjust="spacingAndGlyphs">32815Q</text>
<text x="608.3" y="440.0" textLength="43.5" lengthAdjust="spacingAndGlyphs">32835</text>
<text x="630.9" y="453.0" textLength="52.3" lengthAdjust="spacingAndGlyphs">32852P</text>
<text x="663.9" y="466.0" textLength="51.9" lengthAdjust="spacingAndGlyphs">32836M</text>
<text x="704.4" y="485.0" textLength="53.9" lengthAdjust="spacingAndGlyphs">SEC. 321</text>
<text x="704.4" y="496.0" textLength="50.0" lengthAdjust="spacingAndGlyphs">(32130)</text>
<text x="454.4" y="363.0" textLength="52.1" lengthAdjust="spacingAndGlyphs">SEC.321</text>
<text x="455.1" y="374.0" textLength="52.9" lengthAdjust="spacingAndGlyphs">(32138)</text>
<text x="395.1" y="386.0" textLength="43.7" lengthAdjust="spacingAndGlyphs">32292</text>
<text x="395.1" y="420.0" textLength="43.7" lengthAdjust="spacingAndGlyphs">32942</text>
<text x="400.6" y="462.0" textLength="50.1" lengthAdjust="spacingAndGlyphs">32840P</text>
<text x="305.0" y="482.0" textLength="49.2" lengthAdjust="spacingAndGlyphs">32040A</text>
<text x="904.4" y="117.0" textLength="55.0" lengthAdjust="spacingAndGlyphs">SEC. 341</text>
<text x="909.4" y="199.0" textLength="58.2" lengthAdjust="spacingAndGlyphs">32040AA</text>
<text x="911.4" y="251.0" textLength="41.0" lengthAdjust="spacingAndGlyphs">32145</text>
<text x="909.2" y="304.0" textLength="55.0" lengthAdjust="spacingAndGlyphs">SEC. 321</text>
<text x="909.2" y="315.0" textLength="61.6" lengthAdjust="spacingAndGlyphs">(32516M)</text>
<text class="b" x="886.2" y="520.1" textLength="81.7" lengthAdjust="spacingAndGlyphs">J32800GL</text>
</g>
</svg>
</body>
</html>
